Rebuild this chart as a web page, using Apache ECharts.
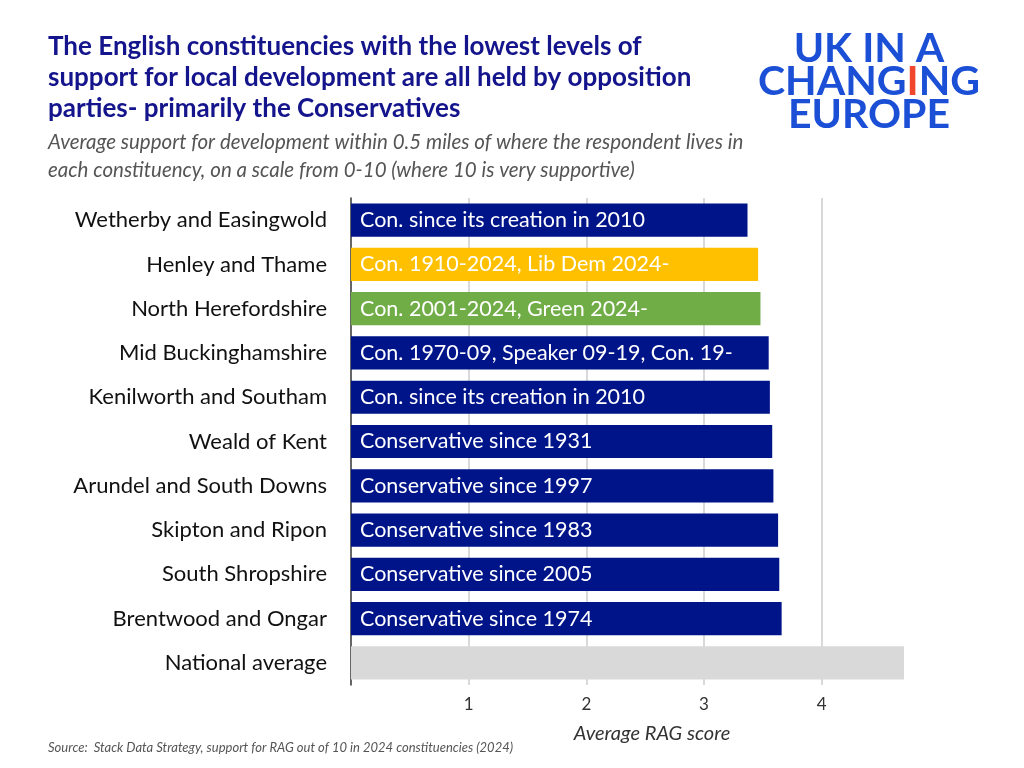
<!DOCTYPE html>
<html>
<head>
<meta charset="utf-8">
<script src="https://cdn.jsdelivr.net/npm/echarts@6/dist/echarts.min.js"></script>
<style>
  html, body { margin: 0; padding: 0; background: #fff; }
  #chart { width: 1024px; height: 768px; }
</style>
</head>
<body>
<div id="chart"></div>
<script>
// constituencies, top to bottom
const constituencies = [
  'Wetherby and Easingwold',
  'Henley and Thame',
  'North Herefordshire',
  'Mid Buckinghamshire',
  'Kenilworth and Southam',
  'Weald of Kent',
  'Arundel and South Downs',
  'Skipton and Ripon',
  'South Shropshire',
  'Brentwood and Ongar',
  'National average'
];
const ragScores = [3.37, 3.46, 3.48, 3.55, 3.56, 3.58, 3.59, 3.63, 3.64, 3.66, 4.70];
const heldBy = [
  'Con. since its creation in 2010',
  'Con. 1910-2024, Lib Dem 2024-',
  'Con. 2001-2024, Green 2024-',
  'Con. 1970-09, Speaker 09-19, Con. 19-',
  'Con. since its creation in 2010',
  'Conservative since 1931',
  'Conservative since 1997',
  'Conservative since 1983',
  'Conservative since 2005',
  'Conservative since 1974',
  ''
];
const barColors = ['#001489', '#FFC000', '#70AD47', '#001489', '#001489', '#001489',
  '#001489', '#001489', '#001489', '#001489', '#D9D9D9'];
const xTicks = [1, 2, 3, 4];

const chart = echarts.init(document.getElementById('chart'));
const font = 'Lato, "Open Sans", sans-serif';
const logoFont = 'Lato, sans-serif';

const option = {
  backgroundColor: '#fff',
  animation: false,
  textStyle: { fontFamily: font },
  title: [
    {
      text: 'The English constituencies with the lowest levels of\nsupport for local development are all held by opposition\nparties- primarily the Conservatives',
      left: 48, top: 31, padding: 0,
      textStyle: { color: '#14148C', fontSize: 26, fontWeight: 'bold', lineHeight: 31, fontFamily: font }
    },
    {
      text: 'Average support for development within 0.5 miles of where the respondent lives in\neach constituency, on a scale from 0-10 (where 10 is very supportive)',
      left: 48, top: 128, padding: 0,
      textStyle: { color: '#555', fontSize: 20.5, fontStyle: 'italic', fontWeight: 'normal', lineHeight: 28, fontFamily: font }
    }
  ],
  graphic: [
    {
      type: 'text',
      style: {
        x: 869, y: 32, textAlign: 'center',
        text: '{b|UK IN A}\n{b|CHANG}{r|I}{b|NG}\n{b|EUROPE}',
        rich: {
          b: { fill: '#1A4FD6', fontSize: 41, fontWeight: 'bold', fontFamily: logoFont, lineHeight: 33 },
          r: { fill: '#F0462D', fontSize: 41, fontWeight: 'bold', fontFamily: logoFont, lineHeight: 33 }
        }
      }
    },
    {
      type: 'text',
      style: {
        x: 652, y: 734, textAlign: 'center', textVerticalAlign: 'middle',
        text: 'Average RAG score', fill: '#333', fontSize: 20, fontStyle: 'italic', fontFamily: font
      }
    },
    {
      type: 'text',
      style: {
        x: 48, y: 748, textVerticalAlign: 'middle',
        text: 'Source:  Stack Data Strategy, support for RAG out of 10 in 2024 constituencies (2024)',
        fill: '#555', fontSize: 13, fontStyle: 'italic', fontFamily: font
      }
    }
  ],
  grid: { left: 351, right: 1024 - 904, top: 198, bottom: 83 },
  xAxis: {
    type: 'value',
    min: 0, max: 4.7, interval: 1,
    axisLine: { show: false },
    axisTick: { show: false },
    splitLine: { show: true, showMinLine: false, showMaxLine: false, lineStyle: { color: '#D9D9D9', width: 2 } },
    axisLabel: {
      color: '#333', fontSize: 17, margin: 11, fontFamily: font,
      showMinLabel: false, showMaxLabel: false,
      formatter: v => (xTicks.includes(v) ? String(v) : '')
    }
  },
  yAxis: {
    type: 'category',
    inverse: true,
    data: constituencies,
    axisLine: { show: true, lineStyle: { color: '#333', width: 1.5 } },
    axisTick: { show: false },
    axisLabel: { color: '#111', fontSize: 22, margin: 24, fontFamily: font }
  },
  series: [{
    type: 'bar',
    barCategoryGap: '25%',
    data: ragScores.map((v, i) => ({ value: v, itemStyle: { color: barColors[i] } })),
    label: {
      show: true,
      position: 'insideLeft',
      distance: 9,
      color: '#fff',
      fontSize: 21.5,
      fontFamily: font,
      formatter: p => heldBy[p.dataIndex]
    }
  }]
};
chart.setOption(option);
</script>
</body>
</html>
